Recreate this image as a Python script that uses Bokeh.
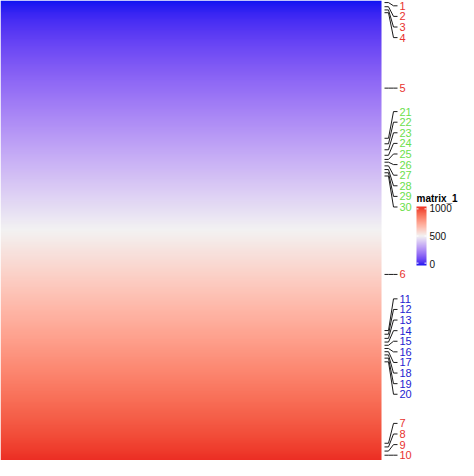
import numpy as np
from bokeh.plotting import figure
from bokeh.models import Range1d, LinearColorMapper
from bokeh.core.properties import value
from bokeh.embed import file_html
from bokeh.resources import INLINE

# ---------------- data ----------------
# matrix_1: one column, 1000 rows, values increasing top to bottom
matrix_1 = list(range(1, 1001))
# anno_mark: marked rows and their labels
mark_rows = [5, 14, 21, 27, 191, 596, 963, 971, 980, 989,
             718, 726, 735, 743, 750, 757, 764, 771, 778, 786,
             300, 312, 325, 337, 346, 352, 360, 368, 375, 382]
mark_labels = [str(i) for i in range(1, 31)]
mark_groups = ["a"] * 10 + ["b"] * 10 + ["c"] * 10
legend_ticks = [0, 500, 1000]
legend_title = "matrix_1"

# ---------------- styles ----------------
group_colors = {"a": "#E8322E", "b": "#2424D0", "c": "#6BE04C"}
break_colors = ["#0A14F2", "#F2F2F2", "#EC2E24"]
breaks = [0, 500, 1000]

W, H = 458, 460
HM_RIGHT = 381
N = len(matrix_1)
PX = H / N


def hex2rgb(h):
    h = h.lstrip("#")
    return np.array([int(h[i:i + 2], 16) for i in (0, 2, 4)], dtype=float)


M = np.array([[0.4124, 0.3576, 0.1805], [0.2126, 0.7152, 0.0722], [0.0193, 0.1192, 0.9505]])
Minv = np.linalg.inv(M)
WHITE = np.array([0.95047, 1.0, 1.08883])


def rgb2lab(rgb):
    c = rgb / 255.0
    lin = np.where(c <= 0.04045, c / 12.92, ((c + 0.055) / 1.055) ** 2.4)
    xyz = M @ lin / WHITE
    d = 6 / 29
    f = np.where(xyz > d ** 3, np.cbrt(xyz), xyz / (3 * d * d) + 4 / 29)
    return np.array([116 * f[1] - 16, 500 * (f[0] - f[1]), 200 * (f[1] - f[2])])


def lab2hex(lab):
    L, a, b = lab
    fy = (L + 16) / 116
    fx = fy + a / 500
    fz = fy - b / 200
    d = 6 / 29
    f = np.array([fx, fy, fz])
    xyz = np.where(f > d, f ** 3, 3 * d * d * (f - 4 / 29)) * WHITE
    lin = Minv @ xyz
    lin = np.clip(lin, 0, 1)
    c = np.where(lin <= 0.0031308, 12.92 * lin, 1.055 * lin ** (1 / 2.4) - 0.055)
    c = np.clip(np.round(c * 255), 0, 255).astype(int)
    return "#%02x%02x%02x" % tuple(c)


labs = [rgb2lab(hex2rgb(c)) for c in break_colors]
palette = []
for v in np.linspace(breaks[0], breaks[-1], 256):
    if v <= breaks[1]:
        t = (v - breaks[0]) / (breaks[1] - breaks[0])
        palette.append(lab2hex(labs[0] * (1 - t) + labs[1] * t))
    else:
        t = (v - breaks[1]) / (breaks[2] - breaks[1])
        palette.append(lab2hex(labs[1] * (1 - t) + labs[2] * t))

mapper = LinearColorMapper(palette=palette, low=breaks[0], high=breaks[-1])

p = figure(width=W, height=H, output_backend="svg", toolbar_location=None,
           x_range=Range1d(0, W), y_range=Range1d(0.5, N + 0.5),
           min_border=0, min_border_left=0, min_border_right=0,
           min_border_top=0, min_border_bottom=0)
p.axis.visible = False
p.xgrid.visible = False
p.ygrid.visible = False
p.outline_line_color = None
p.background_fill_color = "white"
p.border_fill_color = "white"

# heatmap: array row 0 is at the bottom, so reverse
img = np.array(matrix_1[::-1], dtype=float).reshape(-1, 1)
p.image(image=[img], x=0, y=0.5, dw=HM_RIGHT, dh=N, color_mapper=mapper)

# ---------------- anno_mark label placement ----------------
order = np.argsort(mark_rows)
rows_sorted = np.array(mark_rows)[order]
centers = (rows_sorted - 0.5) * PX
h = 10.6


def smart_align(c, h, lo, hi):
    blocks = [[i] for i in range(len(c))]
    while True:
        tops = []
        for b in blocks:
            size = len(b) * h
            t = np.mean(c[b]) - size / 2
            t = min(max(t, lo), hi - size)
            tops.append(t)
        merged = False
        nb = [blocks[0]]
        ntops = [tops[0]]
        for k in range(1, len(blocks)):
            if tops[k] < ntops[-1] + len(nb[-1]) * h - 1e-9:
                nb[-1] = nb[-1] + blocks[k]
                merged = True
                size = len(nb[-1]) * h
                t = np.mean(c[nb[-1]]) - size / 2
                ntops[-1] = min(max(t, lo), hi - size)
            else:
                nb.append(blocks[k])
                ntops.append(tops[k])
        blocks = nb
        if not merged:
            break
    out = np.zeros(len(c))
    for b, t in zip(blocks, ntops):
        for j, i in enumerate(b):
            out[i] = t + h * (j + 0.5)
    return out


label_px = smart_align(centers, h, 0, H)


def to_y(px):
    return N + 0.5 - px / PX


x0, x1, x2, x3 = HM_RIGHT + 3, HM_RIGHT + 7, HM_RIGHT + 12, HM_RIGHT + 16
xs, ys, tx, ty, tt, tc = [], [], [], [], [], []
for k, idx in enumerate(order):
    ya = to_y(centers[k])
    yl = to_y(label_px[k])
    xs.append([x0, x1, x2, x3])
    ys.append([ya, ya, yl, yl])
    tx.append(x3 + 2)
    ty.append(yl)
    tt.append(mark_labels[idx])
    tc.append(group_colors[mark_groups[idx]])

p.multi_line(xs=xs, ys=ys, line_color="#1a1a1a", line_width=1)
p.text(x=tx, y=ty, text=tt, text_color=tc, text_font=value("Liberation Sans"),
       text_font_size="11px", text_baseline="middle", text_align="left")

# ---------------- legend (drawn with glyphs) ----------------
LX, LW = 416, 10
L_TOP, L_BOT = 206, 265  # px from top of the figure
lo, hi = breaks[0], breaks[-1]
bar = np.linspace(lo, hi, 256).reshape(-1, 1)
p.image(image=[bar], x=LX, y=to_y(L_BOT), dw=LW, dh=to_y(L_TOP) - to_y(L_BOT),
        color_mapper=mapper)


def legend_y(v):
    return to_y(L_BOT - (v - lo) / (hi - lo) * (L_BOT - L_TOP))


tick_y_in = [legend_y(min(max(v, lo + 40), hi - 40)) for v in legend_ticks]
label_y = [legend_y(min(max(v, lo + 25), hi - 25)) for v in legend_ticks]
p.segment(x0=[LX] * 3, y0=tick_y_in, x1=[LX + 2] * 3, y1=tick_y_in,
          line_color="white", line_width=1)
p.segment(x0=[LX + LW - 2] * 3, y0=tick_y_in, x1=[LX + LW] * 3, y1=tick_y_in,
          line_color="white", line_width=1)
p.text(x=[LX + LW + 3] * 3, y=label_y, text=[str(v) for v in legend_ticks],
       text_font=value("Liberation Sans"), text_font_size="10px",
       text_baseline="middle", text_align="left", text_color="#111111")
p.text(x=[LX], y=[to_y(L_TOP - 8)], text=[legend_title],
       text_font=value("Liberation Sans"), text_font_style="bold",
       text_font_size="10px", text_baseline="middle", text_align="left",
       text_color="#000000")

open("out.html", "w").write(file_html(p, INLINE))
